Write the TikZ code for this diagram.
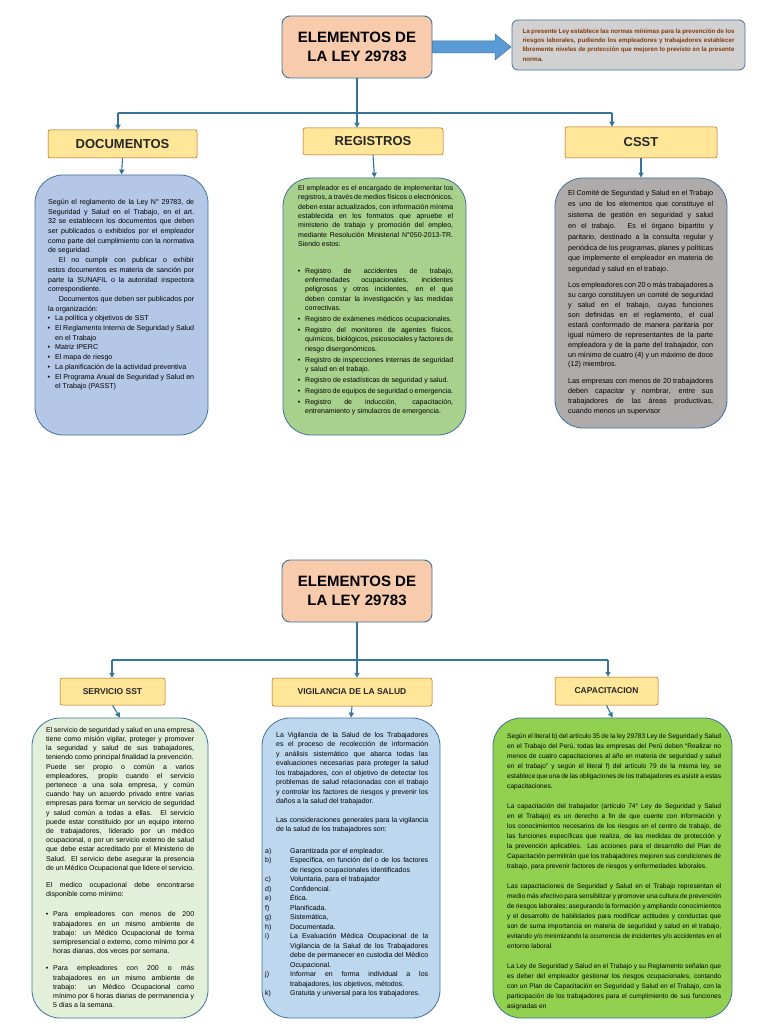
\documentclass[tikz,border=0pt]{standalone}
\usepackage{fontspec}
\setmainfont{Liberation Sans}
\usepackage{enumitem}
\usetikzlibrary{arrows.meta}
\hyphenpenalty=10000 \exhyphenpenalty=10000 \emergencystretch=30pt \tolerance=9999
\definecolor{lnc}{HTML}{5B9BD5}
\definecolor{salmon}{HTML}{F8CBAD}
\definecolor{hdr}{HTML}{FFE699}
\definecolor{bblue}{HTML}{B4C7E7}
\definecolor{bgreen}{HTML}{A9D18E}
\definecolor{bgray}{HTML}{AFABAB}
\definecolor{lgreen}{HTML}{E2F0D9}
\definecolor{lblue}{HTML}{BDD7EE}
\definecolor{vgreen}{HTML}{92D050}
\definecolor{brn}{HTML}{843C0C}
\definecolor{bord}{HTML}{41719C}
\setlist[itemize]{leftmargin=7pt,itemsep=0pt,topsep=1pt,parsep=0pt,label=\textbullet}
\tikzset{
 titlebox/.style={draw=bord,line width=0.9pt,fill=salmon,rounded corners=8pt,minimum width=150pt,minimum height=62pt,align=center,font=\fontsize{15}{19}\selectfont\bfseries,inner sep=0},
 hdrbox/.style={draw=orange!70!black,line width=0.5pt,fill=hdr,rounded corners=2pt,align=center,inner sep=0,text=black!85},
 bigbox/.style={draw=bord,line width=0.8pt,rounded corners=28pt,inner sep=0},
 txt/.style={anchor=north west,inner sep=0,align=justify,font=\fontsize{7}{10}\selectfont},
 conn/.style={draw=bord!80!teal,line width=1.1pt},
 arr/.style={conn,-{Triangle[length=5pt,width=5pt]}},
}
\begin{document}
\begin{tikzpicture}[x=1pt,y=-1pt]
\useasboundingbox (0,0) rectangle (768,1024);
% ===== TOP =====
\node[titlebox] (t1) at (357,47) {ELEMENTOS DE\\LA LEY 29783};
\node[draw=bord,line width=0.8pt,fill=black!18,rounded corners=6pt,minimum width=233pt,minimum height=50pt,inner sep=0] (note) at (628.5,45) {};
\node[anchor=center,text width=212pt,align=justify,font=\fontsize{6.2}{9.2}\selectfont\bfseries,text=brn,inner sep=0] (notet) at (628.5,45) {La presente Ley establece las normas mínimas para la prevención de los riesgos laborales, pudiendo los empleadores y trabajadores establecer libremente niveles de protección que mejoren lo previsto en la presente norma.};
\fill[lnc,draw=bord,line width=0.5pt] (t1.east|-0,41) -- (495,41) -- (495,34) -- (511,47) -- (495,60) -- (495,53) -- (t1.east|-0,53) -- cycle;
\coordinate (j1) at (357,113);
\coordinate (l1) at (118,113);
\coordinate (r1) at (612,113);
\draw[conn] (t1.south) -- (j1);
\draw[conn] (l1) -- (r1);
\node[hdrbox,minimum width=149pt,minimum height=28pt,font=\fontsize{13}{15}\selectfont\bfseries] (h1) at (122.5,144) {DOCUMENTOS};
\node[hdrbox,minimum width=140pt,minimum height=27pt,font=\fontsize{13}{15}\selectfont\bfseries] (h2) at (373,141.5) {REGISTROS};
\node[hdrbox,minimum width=152pt,minimum height=31pt,font=\fontsize{13}{15}\selectfont\bfseries] (h3) at (641,142.5) {CSST};
\draw[arr] (l1) -- (l1|-h1.north);
\draw[arr] (j1) -- (j1|-h2.north);
\draw[arr] (r1) -- (r1|-h3.north);
\node[bigbox,fill=bblue,minimum width=173pt,minimum height=260pt] (b1) at (121.5,305) {};
\node[bigbox,fill=bgreen,minimum width=183pt,minimum height=257pt] (b2) at (374.5,306.5) {};
\node[bigbox,fill=bgray,minimum width=172pt,minimum height=250pt] (b3) at (641,303) {};
\draw[arr] (h1.south) -- (b1.north);
\draw[arr] (h2.south) -- (b2.north);
\draw[arr] (h3.south) -- (b3.north);
\node[txt,text width=146pt,font=\fontsize{7.1}{9.7}\selectfont] (x1) at (48,199) {Según el reglamento de la Ley N° 29783, de Seguridad y Salud en el Trabajo, en el art. 32 se establecen los documentos que deben ser publicados o exhibidos por el empleador como parte del cumplimiento con la normativa de seguridad.\\
\hspace*{1.5em}El no cumplir con publicar o exhibir estos documentos es materia de sanción por parte la SUNAFIL o la autoridad inspectora correspondiente.\\
\hspace*{1.5em}Documentos que deben ser publicados por la organización:
\begin{itemize}[topsep=0pt]
\item La política y objetivos de SST
\item El Reglamento Interno de Seguridad y Salud en el Trabajo
\item Matriz IPERC
\item El mapa de riesgo
\item La planificación de la actividad preventiva
\item El Programa Anual de Seguridad y Salud en el Trabajo (PASST)
\end{itemize}};
\node[txt,text width=155pt,font=\fontsize{7}{9.4}\selectfont] (x2) at (298,185) {El empleador es el encargado de implementar los registros, a través de medios físicos o electrónicos, deben estar actualizados, con información mínima establecida en los formatos que apruebe el ministerio de trabajo y promoción del empleo, mediante Resolución Ministerial N°050-2013-TR. Siendo estos:\par\vspace{14pt}
\begin{itemize}[itemsep=1.5pt]
\item Registro de accidentes de trabajo, enfermedades ocupacionales, incidentes peligrosos y otros incidentes, en el que deben constar la investigación y las medidas correctivas.
\item Registro de exámenes médicos ocupacionales.
\item Registro del monitoreo de agentes físicos, químicos, biológicos, psicosociales y factores de riesgo disergonómicos.
\item Registro de inspecciones internas de seguridad y salud en el trabajo.
\item Registro de estadísticas de seguridad y salud.
\item Registro de equipos de seguridad o emergencia.
\item Registro de inducción, capacitación, entrenamiento y simulacros de emergencia.
\end{itemize}};
\node[txt,text width=145pt,font=\fontsize{7.2}{10.9}\selectfont] (x3) at (568,190) {El Comité de Seguridad y Salud en el Trabajo es uno de los elementos que constituye el sistema de gestión en seguridad y salud en el trabajo. Es el órgano bipartito y paritario, destinado a la consulta regular y periódica de los programas, planes y políticas que implemente el empleador en materia de seguridad y salud en el trabajo.\par\vspace{6pt}
{\fontsize{7.2}{9.9}\selectfont Los empleadores con 20 o más trabajadores a su cargo constituyen un comité de seguridad y salud en el trabajo, cuyas funciones son definidas en el reglamento, el cual estará conformado de manera paritaria por igual número de representantes de la parte empleadora y de la parte del trabajador, con un mínimo de cuatro (4) y un máximo de doce (12) miembros.\par\vspace{7pt}
Las empresas con menos de 20 trabajadores deben capacitar y nombrar, entre sus trabajadores de las áreas productivas, cuando menos un supervisor\par}};
% ===== BOTTOM =====
\node[titlebox] (t2) at (357,591) {ELEMENTOS DE\\LA LEY 29783};
\coordinate (j2) at (357,660);
\coordinate (l2) at (112,660);
\coordinate (r2) at (608,660);
\draw[conn] (t2.south) -- (j2);
\draw[conn] (l2) -- (r2);
\node[hdrbox,minimum width=105pt,minimum height=27pt,font=\fontsize{8.5}{10}\selectfont\bfseries] (h4) at (112.5,691.5) {SERVICIO SST};
\node[hdrbox,minimum width=160pt,minimum height=28pt,font=\fontsize{8.5}{10}\selectfont\bfseries] (h5) at (352,692) {VIGILANCIA DE LA SALUD};
\node[hdrbox,minimum width=103pt,minimum height=28pt,font=\fontsize{8.5}{10}\selectfont\bfseries] (h6) at (606.5,691) {CAPACITACION};
\draw[arr] (l2) -- (l2|-h4.north);
\draw[arr] (j2) -- (j2|-h5.north);
\draw[arr] (r2) -- (r2|-h6.north);
\node[bigbox,fill=lgreen,minimum width=176pt,minimum height=300pt] (b4) at (120,868) {};
\node[bigbox,fill=lblue,minimum width=178pt,minimum height=300pt] (b5) at (351,868) {};
\node[bigbox,fill=vgreen,minimum width=239pt,minimum height=300pt] (b6) at (612.5,868) {};
\draw[arr] (h4.south) -- (b4.north);
\draw[arr] (h5.south) -- (b5.north);
\draw[arr] (h6.south) -- (b6.north);
\node[txt,text width=148pt,font=\fontsize{7}{9.2}\selectfont] (x4) at (46,727) {El servicio de seguridad y salud en una empresa tiene como misión vigilar, proteger y promover la seguridad y salud de sus trabajadores, teniendo como principal finalidad la prevención.\\
Puede ser propio o común a varios empleadores, propio cuando el servicio pertenece a una sola empresa, y común cuando hay un acuerdo privado entre varias empresas para formar un servicio de seguridad y salud común a todas a ellas. El servicio puede estar constituido por un equipo interno de trabajadores, liderado por un médico ocupacional, o por un servicio externo de salud que debe estar acreditado por el Ministerio de Salud. El servicio debe asegurar la presencia de un Médico Ocupacional que lidere el servicio.\par\vspace{8pt}
El medico ocupacional debe encontrarse disponible como mínimo:\par\vspace{8pt}
\begin{itemize}[itemsep=8pt]
\item Para empleadores con menos de 200 trabajadores en un mismo ambiente de trabajo: un Médico Ocupacional de forma semipresencial o externo, como mínimo por 4 horas diarias, dos veces por semana.
\item Para empleadores con 200 o más trabajadores en un mismo ambiente de trabajo: un Médico Ocupacional como mínimo por 6 horas diarias de permanencia y 5 días a la semana.
\end{itemize}};
\node[txt,text width=152pt,font=\fontsize{7}{9.5}\selectfont] (x5) at (276,732) {La Vigilancia de la Salud de los Trabajadores es el proceso de recolección de información y análisis sistemático que abarca todas las evaluaciones necesarias para proteger la salud los trabajadores, con el objetivo de detectar los problemas de salud relacionadas con el trabajo y controlar los factores de riesgos y prevenir los daños a la salud del trabajador.\par\vspace{9pt}
Las consideraciones generales para la vigilancia de la salud de los trabajadores son:\par\vspace{9pt}
\begin{itemize}[leftmargin=14pt,align=left]
\item[a)] Garantizada por el empleador.
\item[b)] Específica, en función del o de los factores de riesgos ocupacionales identificados
\item[c)] Voluntaria, para el trabajador
\item[d)] Confidencial.
\item[e)] Ética.
\item[f)] Planificada.
\item[g)] Sistemática,
\item[h)] Documentada.
\item[i)] La Evaluación Médica Ocupacional de la Vigilancia de la Salud de los Trabajadores debe de permanecer en custodia del Médico Ocupacional.
\item[j)] Informar en forma individual a los trabajadores, los objetivos, métodos.
\item[k)] Gratuita y universal para los trabajadores.
\end{itemize}};
\node[txt,text width=214pt,font=\fontsize{6.6}{10}\selectfont] (x6) at (507,733) {Según el literal b) del artículo 35 de la ley 29783 Ley de Seguridad y Salud en el Trabajo del Perú, todas las empresas del Perú deben “Realizar no menos de cuatro capacitaciones al año en materia de seguridad y salud en el trabajo” y según el literal f) del artículo 79 de la misma ley, se establece que una de las obligaciones de los trabajadores es asistir a estas capacitaciones.\par\vspace{10pt}
La capacitación del trabajador (artículo 74° Ley de Seguridad y Salud en el Trabajo) es un derecho a fin de que cuente con información y los conocimientos necesarios de los riesgos en el centro de trabajo, de las funciones específicas que realiza, de las medidas de protección y la prevención aplicables. Las acciones para el desarrollo del Plan de Capacitación permitirán que los trabajadores mejoren sus condiciones de trabajo, para prevenir factores de riesgos y enfermedades laborales.\par\vspace{10pt}
Las capacitaciones de Seguridad y Salud en el Trabajo representan el medio más efectivo para sensibilizar y promover una cultura de prevención de riesgos laborales; asegurando la formación y ampliando conocimientos y el desarrollo de habilidades para modificar actitudes y conductas que son de suma importancia en materia de seguridad y salud en el trabajo, evitando y/o minimizando la ocurrencia de incidentes y/o accidentes en el entorno laboral.\par\vspace{10pt}
La Ley de Seguridad y Salud en el Trabajo y su Reglamento señalan que es deber del empleador gestionar los riesgos ocupacionales, contando con un Plan de Capacitación en Seguridad y Salud en el Trabajo, con la participación de los trabajadores para el cumplimiento de sus funciones asignadas en\par};
\end{tikzpicture}
\end{document}
